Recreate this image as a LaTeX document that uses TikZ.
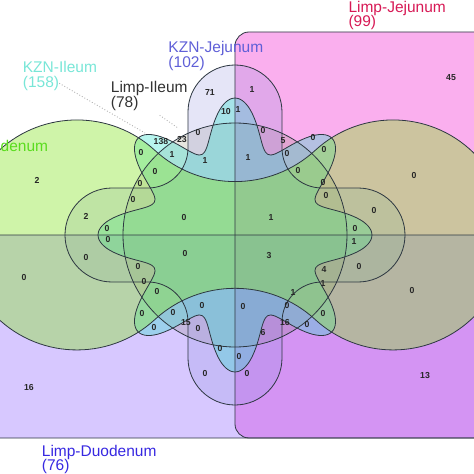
\documentclass[tikz,border=0pt]{standalone}
\usepackage{fontspec}
\setmainfont{Liberation Sans}
\usetikzlibrary{calc}

% fill colours of the six sets
\definecolor{limpjejcol}{RGB}{241,26,206}
\definecolor{limpduocol}{RGB}{141,98,255}
\definecolor{kznduocol}{RGB}{140,228,50}
\definecolor{limpilcol}{RGB}{130,125,100}
\definecolor{kznjejcol}{RGB}{150,150,225}
\definecolor{kznilcol}{RGB}{50,225,205}
\definecolor{edgecol}{RGB}{45,55,65}
% label colours
\definecolor{limpjejtxt}{RGB}{215,25,85}
\definecolor{limpduotxt}{RGB}{55,40,225}
\definecolor{kznduotxt}{RGB}{90,220,30}
\definecolor{limpiltxt}{RGB}{50,50,50}
\definecolor{kznjejtxt}{RGB}{95,95,215}
\definecolor{kzniltxt}{RGB}{120,230,215}

% outlines of the six sets (centre of the diagram at the origin)
\newcommand{\limpjejshape}{(0,-203) rectangle (260,203)}
\newcommand{\limpduoshape}{(-260,0) rectangle (260,-203)}
\newcommand{\limpilshape}{(0,0) circle[radius=112]}
\newcommand{\kznduoshape}{(-80.2,84.7) arc[start angle=227.4, end angle=312.6, radius=118.55]
  arc[start angle=132.6, end angle=-132.6, radius=115]
  arc[start angle=47.4, end angle=132.6, radius=118.55]
  arc[start angle=-47.4, end angle=-312.6, radius=115] -- cycle}
\newcommand{\kznjejshape}{(-47,123) -- (-47,87) arc[start angle=0, end angle=-90, radius=40]
  -- (-123,47) arc[start angle=90, end angle=270, radius=47]
  -- (-87,-47) arc[start angle=90, end angle=0, radius=40]
  -- (-47,-123) arc[start angle=180, end angle=360, radius=47]
  -- (47,-87) arc[start angle=180, end angle=90, radius=40]
  -- (123,-47) arc[start angle=-90, end angle=90, radius=47]
  -- (87,47) arc[start angle=-90, end angle=-180, radius=40]
  -- (47,123) arc[start angle=0, end angle=180, radius=47] -- cycle}
\newcommand{\kznilshape}{plot[domain=0:358, samples=180, smooth cycle] (\x:{112+25*cos(8*\x)})}

\begin{document}
\begin{tikzpicture}[x=1pt, y=1pt,
    % styles for sets, labels and region counts
    setfill/.style={fill=#1, fill opacity=.35},
    edge/.style={draw=edgecol, line width=.8pt},
    setlabel/.style={font=\fontsize{15.5}{14}\selectfont, inner sep=0pt, anchor=north west,
      text height=11pt, text depth=3pt},
    regionnum/.style={font=\fontsize{8.7}{9}\selectfont\bfseries, inner sep=0pt, text=black!85},
    leader/.style={draw=gray!60, dotted, line width=.9pt}]

  % 0. Canvas
  \useasboundingbox (-235,-239) rectangle (239,235);
  \clip (-235,-239) rectangle (239,235);

  % 1. Fill the six sets
  \fill[setfill=limpjejcol, rounded corners=14pt] \limpjejshape;
  \fill[setfill=limpduocol, rounded corners=14pt] \limpduoshape;
  \fill[setfill=limpilcol, fill opacity=.2] \limpilshape;
  \fill[setfill=kznjejcol, fill opacity=.25] \kznjejshape;
  \fill[setfill=kznilcol] \kznilshape;
  \fill[setfill=kznduocol, fill opacity=.42] \kznduoshape;

  % 2. Outlines on top of the fills
  \draw[edge, rounded corners=14pt] \limpjejshape;
  \draw[edge, rounded corners=14pt] \limpduoshape;
  \draw[edge] \kznduoshape;
  \draw[edge] \limpilshape;
  \draw[edge] \kznjejshape;
  \draw[edge] \kznilshape;

  % 3. Region counts
  \foreach \x/\y/\v [count=\i] in {
      -25/142/71, 17/145/1, -9/123/10, 3/125/1, 216/157/45, -198/55/2,
      -74/93/138, -53/95/23, -37/102/0, 28/104/0, 48/94/5, 78/97/0,
      -94/82/0, -63/80/1, -30/74/1, 13/77/1, 52/81/0, 89/85/0,
      -80/63/0, 63/64/0, 179/59/0, -95/51/0, 88/52/0, -102/35/0,
      91/39/0, -149/19/2, -51/17/0, 36/17/1, 139/24/0, -128/6/0,
      -127/-5/0, 120/6/0, 119/-7/1, -50/-19/0, 34/-21/3, -149/-23/0,
      124/-32/0, -211/-43/0, -97/-32/0, 89/-35/4, -91/-47/0, 88/-49/1,
      177/-56/0, -78/-57/0, 58/-58/1, -33/-71/0, 8/-72/0, -62/-78/0,
      52/-71/0, -93/-79/0, 88/-79/0, -49/-88/15, -37/-94/0, 50/-88/16,
      72/-90/0, 28/-98/6, -81/-93/0, -15/-114/0, 4/-122/0, -30/-139/0,
      12/-139/0, -206/-153/16, 190/-141/13}
    \node[regionnum] (r\i) at (\x,\y) {\v};

  % 4. Set labels
  \node[setlabel, text=limpjejtxt] (limpjej) at (113.3,234) {Limp-Jejunum};
  \node[setlabel, text=limpjejtxt] (limpjejcount) at (limpjej.south west) {(99)};
  \node[setlabel, text=kznjejtxt] (kznjej) at (-66.7,193.3) {KZN-Jejunum};
  \node[setlabel, text=kznjejtxt] (kznjejcount) at (kznjej.south west) {(102)};
  \node[setlabel, text=kzniltxt] (kznil) at (-212.3,173.3) {KZN-Ileum};
  \node[setlabel, text=kzniltxt] (kznilcount) at (kznil.south west) {(158)};
  \node[setlabel, text=limpiltxt] (limpil) at (-124.3,153.3) {Limp-Ileum};
  \node[setlabel, text=limpiltxt] (limpilcount) at (limpil.south west) {(78)};
  \node[setlabel, anchor=north east, text=kznduotxt] (kznduo) at (-186.7,95) {KZN-Duodenum};
  \node[setlabel, text=limpduotxt] (limpduo) at (-193.3,-210) {Limp-Duodenum};
  \node[setlabel, text=limpduotxt] (limpduocount) at (limpduo.south west) {(76)};

  % 5. Dotted leaders to the Ileum sets
  \coordinate (kzniltip) at (-90,102);
  \coordinate (limpiltip) at (-57,107);
  \draw[leader] (kznilcount.east) -- (kzniltip);
  \draw[leader] ($(limpilcount.east)+(21,-12)$) -- (limpiltip);

\end{tikzpicture}
\end{document}
